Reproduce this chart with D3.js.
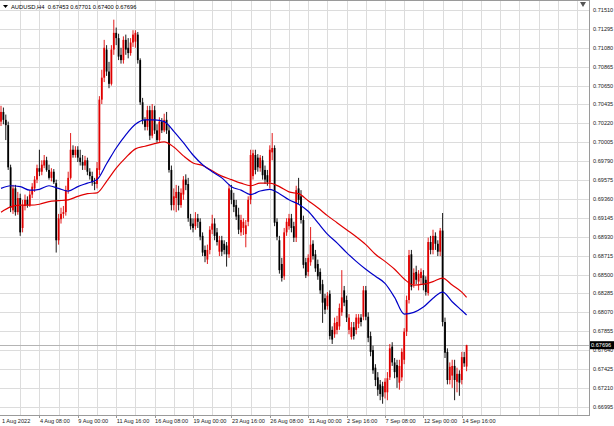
<!DOCTYPE html>
<html>
<head>
<meta charset="utf-8">
<script src="https://cdn.jsdelivr.net/npm/d3@7"></script>
<style>
  html, body { margin: 0; padding: 0; background: #fff; }
  svg { display: block; font-family: "Liberation Sans", Arial, sans-serif; }
</style>
</head>
<body>
<svg id="chart" width="614" height="426"></svg>
<script>
// AUDUSD H4 candles, one per 4 hours, first bar = 1 Aug 2022 16:00
var open = [
  0.7024,0.7035,0.7026,0.7020,0.6972,0.6923,0.6948,0.6921,0.6937,0.6903,
  0.6928,0.6935,0.6929,0.6941,0.6948,0.6958,0.6971,0.6967,0.6974,0.6980,
  0.6969,0.6960,0.6967,0.6954,0.6889,0.6913,0.6919,0.6921,0.6946,0.6960,
  0.6992,0.6986,0.6992,0.6983,0.6978,0.6974,0.6980,0.6967,0.6962,0.6955,
  0.6953,0.6969,0.7049,0.7074,0.7106,0.7081,0.7067,0.7106,0.7125,0.7119,
  0.7100,0.7094,0.7117,0.7108,0.7102,0.7114,0.7115,0.7123,0.7094,0.7046,
  0.7026,0.7018,0.7037,0.7008,0.7037,0.7014,0.7003,0.7024,0.7014,0.7026,
  0.7014,0.6969,0.6929,0.6937,0.6944,0.6929,0.6941,0.6958,0.6953,0.6914,
  0.6908,0.6905,0.6914,0.6910,0.6894,0.6878,0.6867,0.6878,0.6901,0.6908,
  0.6898,0.6876,0.6889,0.6885,0.6883,0.6873,0.6946,0.6935,0.6929,0.6918,
  0.6898,0.6903,0.6896,0.6910,0.6935,0.6962,0.6986,0.6983,0.6971,0.6980,
  0.6969,0.6963,0.6955,0.6989,0.6994,0.6910,0.6889,0.6862,0.6848,0.6898,
  0.6905,0.6914,0.6905,0.6892,0.6948,0.6939,0.6912,0.6864,0.6853,0.6864,
  0.6885,0.6873,0.6862,0.6853,0.6839,0.6823,0.6814,0.6828,0.6787,0.6782,
  0.6787,0.6791,0.6807,0.6832,0.6821,0.6787,0.6779,0.6790,0.6787,0.6794,
  0.6801,0.6802,0.6832,0.6802,0.6780,0.6764,0.6744,0.6733,0.6725,0.6723,
  0.6716,0.6716,0.6733,0.6768,0.6750,0.6747,0.6727,0.6733,0.6753,0.6785,
  0.6821,0.6873,0.6839,0.6853,0.6842,0.6846,0.6849,0.6844,0.6829,0.6887,
  0.6878,0.6894,0.6885,0.6876,0.6900,0.6796,0.6762,0.6730,0.6735,0.6746,
  0.6728,0.6737,0.6730,0.6756,0.67453
];
var high = [
  0.7042,0.7040,0.7032,0.7024,0.6975,0.6952,0.6952,0.6944,0.6942,0.6935,
  0.6941,0.6939,0.6946,0.6954,0.6962,0.6975,0.6992,0.6980,0.6986,0.6984,
  0.6975,0.6971,0.6970,0.6958,0.6919,0.6926,0.6928,0.6951,0.6967,0.7011,
  0.6997,0.6996,0.6996,0.6992,0.6986,0.6985,0.6983,0.6971,0.6967,0.6960,
  0.6978,0.7053,0.7083,0.7117,0.7111,0.7092,0.7111,0.7140,0.7131,0.7124,
  0.7108,0.7121,0.7123,0.7119,0.7119,0.7128,0.7128,0.7126,0.7096,0.7051,
  0.7029,0.7042,0.7042,0.7044,0.7042,0.7021,0.7029,0.7028,0.7033,0.7035,
  0.7019,0.6974,0.6948,0.6952,0.6951,0.6948,0.6962,0.6964,0.6960,0.6919,
  0.6914,0.6921,0.6919,0.6914,0.6898,0.6883,0.6884,0.6905,0.6918,0.6914,
  0.6903,0.6894,0.6894,0.6889,0.6887,0.6953,0.6952,0.6943,0.6935,0.6926,
  0.6918,0.6914,0.6912,0.6939,0.6992,0.6992,0.6992,0.6987,0.6986,0.6985,
  0.6974,0.6969,0.6997,0.7011,0.6997,0.6914,0.6894,0.6869,0.6903,0.6914,
  0.6919,0.6919,0.6910,0.6951,0.6960,0.6946,0.6917,0.6869,0.6873,0.6904,
  0.6889,0.6878,0.6867,0.6857,0.6844,0.6828,0.6830,0.6832,0.6791,0.6801,
  0.6803,0.6817,0.6855,0.6837,0.6826,0.6805,0.6796,0.6796,0.6805,0.6805,
  0.6805,0.6837,0.6837,0.6807,0.6785,0.6769,0.6748,0.6739,0.6730,0.6728,
  0.6732,0.6739,0.6771,0.6773,0.6755,0.6753,0.6753,0.6766,0.6789,0.6826,
  0.6878,0.6878,0.6857,0.6860,0.6855,0.6857,0.6855,0.6848,0.6892,0.6894,
  0.6901,0.6898,0.6889,0.6903,0.6920,0.6801,0.6766,0.6750,0.6753,0.6753,
  0.6744,0.6741,0.6762,0.6762,0.67701
];
var low = [
  0.7019,0.7021,0.7003,0.6969,0.6921,0.6919,0.6917,0.6918,0.6894,0.6898,
  0.6923,0.6926,0.6927,0.6937,0.6944,0.6954,0.6962,0.6963,0.6971,0.6967,
  0.6958,0.6956,0.6953,0.6875,0.6884,0.6908,0.6914,0.6917,0.6942,0.6958,
  0.6983,0.6983,0.6978,0.6974,0.6969,0.6969,0.6963,0.6958,0.6951,0.6946,
  0.6948,0.6963,0.7044,0.7069,0.7076,0.7062,0.7065,0.7100,0.7111,0.7094,
  0.7090,0.7090,0.7100,0.7096,0.7099,0.7109,0.7108,0.7090,0.7043,0.7021,
  0.7014,0.7014,0.7003,0.7005,0.7010,0.7000,0.7001,0.7011,0.7012,0.7010,
  0.6966,0.6923,0.6923,0.6921,0.6923,0.6926,0.6935,0.6946,0.6910,0.6901,
  0.6898,0.6901,0.6903,0.6889,0.6871,0.6864,0.6862,0.6873,0.6896,0.6889,
  0.6883,0.6871,0.6871,0.6873,0.6859,0.6869,0.6930,0.6921,0.6912,0.6896,
  0.6894,0.6895,0.6881,0.6905,0.6930,0.6958,0.6964,0.6967,0.6967,0.6958,
  0.6953,0.6951,0.6948,0.6980,0.6905,0.6889,0.6851,0.6842,0.6844,0.6894,
  0.6901,0.6898,0.6887,0.6887,0.6930,0.6908,0.6857,0.6846,0.6848,0.6860,
  0.6867,0.6853,0.6844,0.6828,0.6795,0.6805,0.6810,0.6776,0.6771,0.6778,
  0.6782,0.6787,0.6803,0.6814,0.6796,0.6782,0.6776,0.6776,0.6782,0.6789,
  0.6791,0.6798,0.6798,0.6773,0.6757,0.6737,0.6723,0.6712,0.6707,0.6703,
  0.6709,0.6707,0.6730,0.6746,0.6732,0.6721,0.6719,0.6729,0.6748,0.6780,
  0.6817,0.6832,0.6835,0.6839,0.6832,0.6839,0.6832,0.6826,0.6826,0.6873,
  0.6873,0.6878,0.6871,0.6871,0.6791,0.6755,0.6725,0.6725,0.6721,0.6707,
  0.6716,0.6712,0.6725,0.6745,0.67400
];
var close = [
  0.7035,0.7026,0.7020,0.6972,0.6926,0.6948,0.6921,0.6937,0.6898,0.6929,
  0.6935,0.6929,0.6941,0.6950,0.6958,0.6971,0.6967,0.6975,0.6980,0.6969,
  0.6960,0.6967,0.6955,0.6889,0.6914,0.6919,0.6921,0.6946,0.6960,0.6992,
  0.6986,0.6992,0.6983,0.6978,0.6974,0.6980,0.6967,0.6962,0.6955,0.6953,
  0.6971,0.7049,0.7074,0.7108,0.7081,0.7067,0.7106,0.7125,0.7119,0.7098,
  0.7094,0.7117,0.7106,0.7102,0.7114,0.7123,0.7125,0.7094,0.7046,0.7026,
  0.7018,0.7037,0.7008,0.7037,0.7014,0.7003,0.7024,0.7014,0.7026,0.7014,
  0.6969,0.6929,0.6939,0.6944,0.6929,0.6943,0.6958,0.6952,0.6914,0.6905,
  0.6903,0.6914,0.6910,0.6893,0.6875,0.6871,0.6878,0.6901,0.6908,0.6894,
  0.6887,0.6889,0.6876,0.6878,0.6873,0.6948,0.6935,0.6927,0.6916,0.6901,
  0.6912,0.6910,0.6906,0.6935,0.6986,0.6988,0.6969,0.6972,0.6983,0.6963,
  0.6958,0.6955,0.6992,0.6994,0.6909,0.6893,0.6855,0.6846,0.6898,0.6910,
  0.6914,0.6903,0.6892,0.6946,0.6935,0.6912,0.6861,0.6849,0.6869,0.6884,
  0.6871,0.6857,0.6848,0.6832,0.6818,0.6810,0.6826,0.6780,0.6776,0.6795,
  0.6796,0.6812,0.6824,0.6818,0.6801,0.6801,0.6790,0.6780,0.6801,0.6801,
  0.6796,0.6832,0.6802,0.6778,0.6762,0.6741,0.6730,0.6719,0.6714,0.6711,
  0.6728,0.6732,0.6766,0.6750,0.6739,0.6733,0.6746,0.6762,0.6785,0.6821,
  0.6872,0.6836,0.6852,0.6844,0.6851,0.6853,0.6838,0.6830,0.6887,0.6878,
  0.6894,0.6885,0.6876,0.6900,0.6796,0.6761,0.6730,0.6745,0.6746,0.6730,
  0.6737,0.6727,0.6756,0.6749,0.67696
];

var maBars = [0,4,8,12,16,20,24,28,32,36,40,44,48,52,56,60,64,68,72,76,80,84,88,92,96,
              100,104,108,112,116,120,124,128,132,136,140,144,148,152,156,160,164,168,
              172,176,180,184,188,192,194];
var maBlue = [0.6948,0.6951,0.6950,0.6946,0.6947,0.6951,0.6948,0.6945,0.6950,0.6954,
              0.6958,0.6976,0.6994,0.7009,0.7021,0.7026,0.7026,0.7024,0.7013,0.7000,
              0.6986,0.6975,0.6967,0.6960,0.6950,0.6946,0.6941,0.6945,0.6947,0.6942,
              0.6935,0.6930,0.6922,0.6909,0.6896,0.6886,0.6875,0.6865,0.6856,0.6848,
              0.6840,0.6824,0.6805,0.6807,0.6813,0.6823,0.6830,0.6819,0.6809,0.6804];
var maRed  = [0.6921,0.6927,0.6929,0.6929,0.6930,0.6933,0.6934,0.6935,0.6939,0.6942,
              0.6943,0.6956,0.6971,0.6983,0.6993,0.6996,0.6999,0.7001,0.6995,0.6985,
              0.6977,0.6974,0.6968,0.6962,0.6958,0.6954,0.6951,0.6954,0.6954,0.6950,
              0.6944,0.6942,0.6934,0.6926,0.6917,0.6909,0.6901,0.6893,0.6884,0.6873,
              0.6865,0.6856,0.6845,0.6838,0.6839,0.6842,0.6846,0.6838,0.6830,0.6824];

var priceTicks = [0.71510,0.71295,0.71080,0.70865,0.70650,0.70435,0.70220,0.70005,
                  0.69790,0.69575,0.69360,0.69145,0.68930,0.68715,0.68500,0.68285,
                  0.68070,0.67855,0.67640,0.67425,0.67210,0.66995];
var timeTickBars = [0,16,32,48,64,80,96,112,128,144,160,176,192];
var timeTickLabels = ["1 Aug 2022","4 Aug 08:00","9 Aug 00:00","11 Aug 16:00","16 Aug 08:00",
                      "19 Aug 00:00","23 Aug 16:00","26 Aug 08:00","31 Aug 00:00","2 Sep 16:00",
                      "7 Sep 08:00","12 Sep 00:00","14 Sep 16:00"];
var title = "AUDUSD,H4  0.67453 0.67701 0.67400 0.67696";

var svg = d3.select("#chart"),
    plotR = 589, plotB = 415;

var x = d3.scaleLinear().domain([0, 244]).range([1, 586.6]);
var y = d3.scaleLinear().domain([0.66995, 0.71510]).range([406.8, 10]);

var bars = d3.range(close.length);

// grid
var grid = svg.append("g").attr("stroke", "#dcdcdc").attr("stroke-width", 1);
grid.selectAll(".hg").data(priceTicks).enter().append("line")
    .attr("x1", 0).attr("x2", plotR)
    .attr("y1", function(d) { return Math.round(y(d)) + 0.5; })
    .attr("y2", function(d) { return Math.round(y(d)) + 0.5; });
grid.selectAll(".vg").data(d3.range(8, 245, 8)).enter().append("line")
    .attr("y1", 0).attr("y2", plotB)
    .attr("x1", function(d) { return Math.round(x(d)) + 0.5; })
    .attr("x2", function(d) { return Math.round(x(d)) + 0.5; });

// current price line
svg.append("line")
    .attr("x1", 0).attr("x2", plotR)
    .attr("y1", Math.round(y(close[close.length - 1])) + 0.5)
    .attr("y2", Math.round(y(close[close.length - 1])) + 0.5)
    .attr("stroke", "#b4b4b4");

// candles
var candles = svg.append("g");
candles.selectAll(".wick").data(bars).enter().append("line")
    .attr("x1", function(i) { return x(i); })
    .attr("x2", function(i) { return x(i); })
    .attr("y1", function(i) { return y(high[i]); })
    .attr("y2", function(i) { return y(low[i]); })
    .attr("stroke", function(i) { return close[i] >= open[i] ? "#e00000" : "#000"; })
    .attr("stroke-width", 0.9);
candles.selectAll(".body").data(bars).enter().append("rect")
    .attr("x", function(i) { return x(i) - 0.9; })
    .attr("width", 1.8)
    .attr("y", function(i) { return y(Math.max(open[i], close[i])); })
    .attr("height", function(i) { return Math.max(1, Math.abs(y(open[i]) - y(close[i]))); })
    .attr("fill", function(i) { return close[i] >= open[i] ? "#e00000" : "#000"; });

// moving averages
var maLine = d3.line()
    .x(function(d) { return x(d[0]); })
    .y(function(d) { return y(d[1]); })
    .curve(d3.curveMonotoneX);
svg.append("path")
    .datum(maBars.map(function(b, k) { return [b, maRed[k]]; }))
    .attr("d", maLine).attr("fill", "none").attr("stroke", "#e00000").attr("stroke-width", 1.2);
svg.append("path")
    .datum(maBars.map(function(b, k) { return [b, maBlue[k]]; }))
    .attr("d", maLine).attr("fill", "none").attr("stroke", "#0000c8").attr("stroke-width", 1.2);

// frame
svg.append("line").attr("x1", 0).attr("x2", plotR).attr("y1", 0.5).attr("y2", 0.5).attr("stroke", "#9a9a9a");
svg.append("line").attr("x1", plotR + 0.5).attr("x2", plotR + 0.5).attr("y1", 0).attr("y2", plotB + 1).attr("stroke", "#9a9a9a");
svg.append("line").attr("x1", 0).attr("x2", plotR + 1).attr("y1", plotB + 0.5).attr("y2", plotB + 0.5).attr("stroke", "#9a9a9a");

// price axis labels
svg.append("g").selectAll("text").data(priceTicks).enter().append("text")
    .attr("x", 593)
    .attr("y", function(d) { return y(d) + 2; })
    .attr("font-size", 5.6)
    .attr("fill", "#222")
    .text(function(d) { return d.toFixed(5); });

// current price box
var last = close[close.length - 1];
svg.append("rect").attr("x", plotR + 1).attr("y", y(last) - 4).attr("width", 24).attr("height", 8).attr("fill", "#000");
svg.append("text").attr("x", 591).attr("y", y(last) + 2).attr("font-size", 5.6).attr("fill", "#fff").text(last.toFixed(5));

// time axis labels
svg.append("g").selectAll("text").data(timeTickBars).enter().append("text")
    .attr("x", function(b, k) { return k === 0 ? 2 : x(b) + 0.5; })
    .attr("y", 423)
    .attr("font-size", 5.6)
    .attr("fill", "#222")
    .text(function(b, k) { return timeTickLabels[k]; });
svg.append("g").selectAll("line").data(timeTickBars.slice(1)).enter().append("line")
    .attr("x1", function(b) { return Math.round(x(b)) + 0.5; })
    .attr("x2", function(b) { return Math.round(x(b)) + 0.5; })
    .attr("y1", plotB).attr("y2", plotB + 3).attr("stroke", "#9a9a9a");

// title
svg.append("path").attr("d", "M3,5 L8,5 L5.5,8 Z").attr("fill", "#000");
svg.append("text").attr("x", 11).attr("y", 9).attr("font-size", 5.8).attr("fill", "#000")
    .attr("xml:space", "preserve").style("white-space", "pre").text(title);

// chart shift marker
svg.append("path").attr("d", "M580,2 L586,2 L583,7 Z").attr("fill", "#555");
</script>
</body>
</html>
